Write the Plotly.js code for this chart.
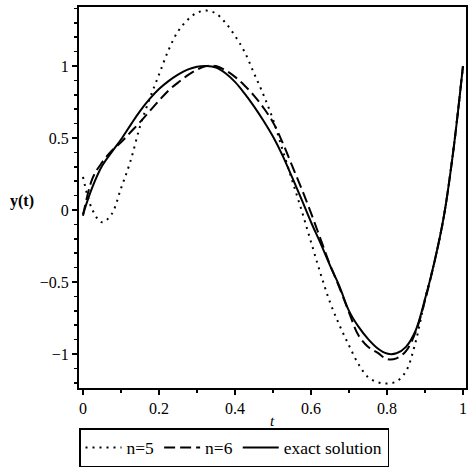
<!DOCTYPE html>
<html>
<head>
<meta charset="utf-8">
<script src="https://cdn.plot.ly/plotly-3.0.1.min.js"></script>
<style>
  html, body { margin: 0; padding: 0; background: #fff; }
  #chart { width: 474px; height: 474px; }
</style>
</head>
<body>
<div id="chart"></div>
<script>
// values, t step 0.025
const tVals = [0, 0.025, 0.05, 0.075, 0.1, 0.125, 0.15, 0.175, 0.2, 0.225,
    0.25, 0.275, 0.3, 0.325, 0.35, 0.375, 0.4, 0.425, 0.45, 0.475,
    0.5, 0.525, 0.55, 0.575, 0.6, 0.625, 0.65, 0.675, 0.7, 0.725,
    0.75, 0.775, 0.8, 0.825, 0.85, 0.875, 0.9, 0.925, 0.95, 0.975, 1];

const n5 = [0.23, 0.0, -0.085, -0.03, 0.15, 0.34, 0.58, 0.77, 0.94, 1.11,
    1.24, 1.32, 1.37, 1.385, 1.365, 1.30, 1.21, 1.10, 0.95, 0.80,
    0.63, 0.42, 0.21, 0.0, -0.22, -0.44, -0.64, -0.80, -0.94, -1.07,
    -1.16, -1.195, -1.205, -1.19, -1.12, -0.92, -0.62, -0.36, -0.04, 0.42, 1.0];

const n6 = [-0.04, 0.22, 0.33, 0.41, 0.47, 0.54, 0.61, 0.685, 0.76, 0.83,
    0.885, 0.935, 0.975, 1.0, 1.0, 0.97, 0.925, 0.865, 0.795, 0.71,
    0.61, 0.47, 0.31, 0.15, -0.02, -0.2, -0.38, -0.54, -0.71, -0.87,
    -0.95, -0.99, -1.035, -1.03, -0.98, -0.85, -0.63, -0.36, -0.04, 0.42, 1.0];

const exact = [-0.03, 0.16, 0.305, 0.40, 0.49, 0.59, 0.687, 0.77, 0.84, 0.895,
    0.94, 0.975, 0.995, 1.0, 0.99, 0.95, 0.89, 0.81, 0.72, 0.62,
    0.51, 0.38, 0.23, 0.075, -0.083, -0.23, -0.384, -0.53, -0.70, -0.81,
    -0.895, -0.96, -0.997, -0.995, -0.95, -0.84, -0.62, -0.36, -0.04, 0.42, 1.0];

const serif = "Liberation Serif";

let traces = [
    {
        x: tVals, y: n5, name: "n=5", mode: "lines", type: "scatter",
        line: { color: "black", width: 2, dash: "2px,5px", shape: "spline" }
    },
    {
        x: tVals, y: n6, name: "n=6", mode: "lines", type: "scatter",
        line: { color: "black", width: 2, dash: "11px,5px", shape: "spline" }
    },
    {
        x: tVals, y: exact, name: "exact solution", mode: "lines", type: "scatter",
        line: { color: "black", width: 2, shape: "spline" }
    }
];

let axisCommon = {
    showline: true, linecolor: "black", linewidth: 2, mirror: true,
    showgrid: false, zeroline: false,
    ticks: "outside", ticklen: 5, tickwidth: 1.5, tickcolor: "black",
    tickfont: { family: serif, size: 16, color: "black" },
    minor: { dtick: 0.1, ticks: "outside", ticklen: 3, tickwidth: 1.5, tickcolor: "black", showgrid: false }
};

let layout = {
    width: 474, height: 474,
    margin: { l: 79, r: 8, t: 7, b: 78 },
    paper_bgcolor: "white", plot_bgcolor: "white",
    font: { family: serif, size: 16, color: "black" },
    showlegend: true,
    legend: {
        orientation: "h", x: 0, xanchor: "left", y: -0.105, yanchor: "top",
        bordercolor: "black", borderwidth: 1.5, bgcolor: "white",
        font: { family: serif, size: 17.5, color: "black" },
        itemwidth: 36, tracegroupgap: 0
    },
    xaxis: Object.assign({}, axisCommon, {
        range: [-0.0105, 1.008], tick0: 0, dtick: 0.2
    }),
    yaxis: Object.assign({}, axisCommon, {
        range: [-1.236, 1.41], tick0: 0, dtick: 0.5
    }),
    annotations: [
        {
            text: "<b>y(t)</b>", xref: "paper", yref: "paper", x: -0.146, y: 0.491,
            xanchor: "center", yanchor: "middle", showarrow: false,
            font: { family: serif, size: 16, color: "black" }
        },
        {
            text: "<i>t</i>", xref: "paper", yref: "paper", x: 0.5, y: -0.087,
            xanchor: "center", yanchor: "middle", showarrow: false,
            font: { family: serif, size: 15, color: "black" }
        }
    ]
};

Plotly.newPlot("chart", traces, layout, { staticPlot: true });
</script>
</body>
</html>
